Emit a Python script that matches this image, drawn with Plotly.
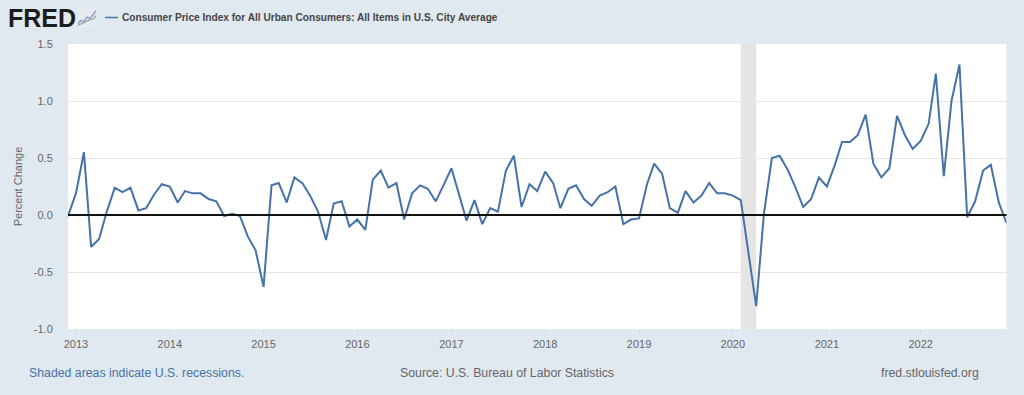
import pandas as pd
import plotly.graph_objects as go

months = pd.date_range("2012-12-01", "2022-12-01", freq="MS")
cpi_change = [
    -0.01,
    0.19, 0.55, -0.28, -0.21, 0.03, 0.24, 0.20, 0.24, 0.04, 0.06, 0.18, 0.27,
    0.25, 0.11, 0.21, 0.19, 0.19, 0.14, 0.12, -0.01, 0.01, -0.01, -0.19, -0.31,
    -0.63, 0.26, 0.28, 0.11, 0.33, 0.28, 0.17, 0.03, -0.22, 0.10, 0.12, -0.10,
    -0.04, -0.13, 0.31, 0.39, 0.24, 0.28, -0.04, 0.19, 0.26, 0.23, 0.12, 0.26,
    0.41, 0.17, -0.05, 0.13, -0.08, 0.06, 0.03, 0.39, 0.52, 0.07, 0.27, 0.21,
    0.38, 0.28, 0.06, 0.23, 0.26, 0.14, 0.08, 0.17, 0.20, 0.25, -0.08, -0.04,
    -0.03, 0.27, 0.45, 0.36, 0.06, 0.02, 0.21, 0.11, 0.17, 0.28, 0.19, 0.19,
    0.17, 0.13, -0.33, -0.80, 0.01, 0.50, 0.52, 0.40, 0.24, 0.07, 0.14, 0.33,
    0.25, 0.44, 0.64, 0.64, 0.70, 0.88, 0.45, 0.33, 0.41, 0.87, 0.70, 0.58,
    0.65, 0.80, 1.24, 0.34, 1.00, 1.32, -0.02, 0.12, 0.39, 0.44, 0.11, -0.07,
]
year_ticks = [f"{y}-01-01" for y in range(2013, 2023)]
year_labels = [str(y) for y in range(2013, 2023)]
y_ticks = [-1.0, -0.5, 0.0, 0.5, 1.0, 1.5]
y_labels = ["-1.0", "-0.5", "0.0", "0.5", "1.0", "1.5"]
recession = ["2020-02-01", "2020-04-01"]
logo_x = [0, 1, 2, 3, 4, 5, 6]
logo_a = [1, 2, 1.6, 3, 2.6, 4, 5]
logo_b = [0.5, 1, 1.4, 1.8, 2.2, 2.4, 3.4]
series_name = "Consumer Price Index for All Urban Consumers: All Items in U.S. City Average"

W, H = 1024, 395
L, R, T, B = 68, 1006.5, 44, 329
BG = "#e1e9f0"
BLUE = "#4572a7"
GREY = "#666666"
FONT = "Liberation Sans"

def px(x):
    return x / W
def py(y):
    return 1 - y / H

fig = go.Figure()
fig.add_trace(go.Scatter(x=months, y=cpi_change, mode="lines", name=series_name,
                         line=dict(color=BLUE, width=2), showlegend=False))
fig.add_trace(go.Scatter(x=logo_x, y=logo_a, mode="lines", xaxis="x2", yaxis="y2",
                         line=dict(color="#8ba3c7", width=1.5), showlegend=False, hoverinfo="skip"))
fig.add_trace(go.Scatter(x=logo_x, y=logo_b, mode="lines", xaxis="x2", yaxis="y2",
                         line=dict(color="#a8a8a8", width=1.5), showlegend=False, hoverinfo="skip"))

fig.add_shape(type="rect", xref="x", yref="y domain", x0=recession[0], x1=recession[1], y0=0, y1=1,
              fillcolor="#e5e5e5", line_width=0, layer="below")
fig.add_shape(type="rect", xref="x2 domain", yref="y2 domain", x0=0, x1=1, y0=0, y1=1,
              fillcolor="#e8ebee", line_width=0, layer="below")
fig.add_shape(type="line", xref="x domain", yref="y", x0=0, x1=1, y0=0, y1=0,
              line=dict(color="#111111", width=2), layer="above")
fig.add_shape(type="line", xref="paper", yref="paper", x0=px(105), x1=px(118), y0=py(17.5), y1=py(17.5),
              line=dict(color=BLUE, width=1.5))

def note(text, x, y, size, color, anchor="left", bold=False):
    fig.add_annotation(text=f"<b>{text}</b>" if bold else text, xref="paper", yref="paper",
                       x=px(x), y=py(y), xanchor=anchor, yanchor="middle", showarrow=False,
                       font=dict(family=FONT, size=size, color=color))

note("FRED", 6, 18, 25, "#1c1c1c", bold=True)
note(series_name, 120, 17.5, 10.15, "#444444", bold=True)
note("Shaded areas indicate U.S. recessions.", 27, 373, 12.3, BLUE)
note("Source: U.S. Bureau of Labor Statistics", 507, 373, 12.3, GREY, anchor="center")
note("fred.stlouisfed.org", 981, 373, 12.3, GREY, anchor="right")

fig.update_layout(
    width=W, height=H, autosize=False,
    margin=dict(l=0, r=0, t=0, b=0, pad=0, autoexpand=False),
    paper_bgcolor=BG, plot_bgcolor="white",
    font=dict(family=FONT, size=11, color=GREY),
    xaxis=dict(domain=[px(L), px(R)], anchor="y", type="date", range=[months[0], months[-1]],
               tickvals=year_ticks, ticktext=year_labels,
               ticks="outside", ticklen=5, tickcolor="#ccd6eb", tickwidth=1, showgrid=False,
               showline=False, zeroline=False, tickfont=dict(size=11, color=GREY)),
    yaxis=dict(domain=[py(B), py(T)], anchor="x", range=[-1.0, 1.5], tickvals=y_ticks, ticktext=y_labels,
               gridcolor="#e6e6e6", gridwidth=1,
               ticks="outside", ticklen=12, tickcolor="rgba(0,0,0,0)", zeroline=False, showline=False,
               tickfont=dict(size=11, color=GREY),
               title=dict(text="Percent Change", font=dict(size=11, color=GREY), standoff=8)),
    xaxis2=dict(domain=[px(78), px(96)], anchor="y2", visible=False, range=[0, 6]),
    yaxis2=dict(domain=[py(27), py(9)], anchor="x2", visible=False, range=[0, 5.5]),
)

fig.write_html("out.html", config={"displayModeBar": False},
               post_script="document.body.style.margin='0';document.body.style.overflow='hidden';")
